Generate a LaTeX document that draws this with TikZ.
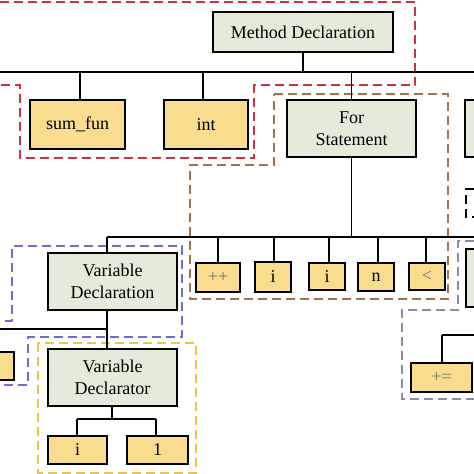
\documentclass[tikz,border=0pt]{standalone}
\usepackage{fontspec}
\setmainfont{Liberation Serif}
\begin{document}
\begin{tikzpicture}[x=1pt,y=-1pt,
  every node/.style={font=\fontsize{18}{22}\selectfont},
  inner/.style={draw=black,line width=2pt,fill=nodegreen,inner sep=0pt,align=center,text=black},
  leaf/.style={draw=black,line width=2pt,fill=leafyellow,inner sep=0pt,align=center,text=black},
  conn/.style={draw=black,line width=1.8pt},
  grp/.style={line width=2pt,dash pattern=on 9pt off 5pt},
  symb/.style={text=black!55}]
\definecolor{nodegreen}{HTML}{E4EBDA}
\definecolor{leafyellow}{HTML}{FADC8E}
\definecolor{redg}{HTML}{CC3340}
\definecolor{browng}{HTML}{A3724C}
\definecolor{blueg}{HTML}{6E6ED2}
\definecolor{goldg}{HTML}{E9C64A}
\definecolor{grayg}{HTML}{8C8CAA}
\useasboundingbox (0,0) rectangle (474,474);
\fill[white] (0,0) rectangle (474,474);

% group outlines
\draw[grp,redg] (0,1.5) -- (415,1.5) -- (415,85) -- (254,85) -- (254,158) -- (20,158) -- (20,85) -- (0,85);
\draw[grp,browng] (274,94) -- (448,94) -- (448,299) -- (190,299) -- (190,165) -- (274,165) -- cycle;
\draw[grp,blueg] (5,321) -- (12,321) -- (12,246) -- (182,246) -- (182,337) -- (28,337) -- (28,385) -- (0,385);
\draw[grp,goldg] (38,343) rectangle (196,473);
\draw[grp,grayg] (474,241) -- (458,241) -- (458,310) -- (402,310) -- (402,399) -- (474,399);
\draw[grp,black] (474,189) -- (466,189) -- (466,217) -- (474,217);

% nodes
\node[inner,minimum width=180pt,minimum height=40pt] (md) at (303,32) {Method Declaration};
\node[leaf,minimum width=95pt,minimum height=49pt] (sumfun) at (77.5,124.5) {sum\_fun};
\node[leaf,minimum width=84pt,minimum height=49pt] (int) at (206,124.5) {int};
\node[inner,minimum width=129pt,minimum height=57pt] (forst) at (351.5,128.5) {For\\Statement};
\node[inner,minimum width=94pt,minimum height=57pt] (rb1) at (512,128.5) {};
\node[leaf,symb,minimum width=44pt,minimum height=29pt] (pp) at (218,277.5) {++};
\node[leaf,minimum width=36pt,minimum height=30pt] (ia) at (273,277) {i};
\node[leaf,minimum width=36pt,minimum height=27pt] (ib) at (327,276.5) {i};
\node[leaf,minimum width=36pt,minimum height=28pt] (nn) at (376,277) {n};
\node[leaf,symb,minimum width=36pt,minimum height=27pt] (lt) at (427,276.5) {<};
\node[inner,minimum width=129pt,minimum height=57pt] (vd) at (112.5,281.5) {Variable\\Declaration};
\node[inner,minimum width=129pt,minimum height=57pt] (vdr) at (112.5,377.5) {Variable\\Declarator};
\node[leaf,minimum width=59pt,minimum height=28pt] (li) at (77.5,449.5) {i};
\node[leaf,minimum width=61pt,minimum height=28pt] (lone) at (157.5,449.5) {1};
\node[leaf,minimum width=64pt,minimum height=28pt] (ll) at (-18,366) {};
\node[inner,minimum width=94pt,minimum height=58pt] (rb2) at (513,278) {};
\node[leaf,symb,minimum width=61pt,minimum height=29pt] (pe) at (441.5,377.5) {+=};

% bus coordinates
\coordinate (busL) at (0,72);
\coordinate (busR) at (480,72);
\coordinate (bus2L) at (107,237);
\coordinate (bus2R) at (480,237);
\coordinate (bus3L) at (0,329);
\coordinate (bus3R) at (107,329);
\coordinate (bus4L) at (77,419);
\coordinate (bus4R) at (156,419);
\coordinate (bus5L) at (442,335);
\coordinate (bus5R) at (480,335);

% connectors
\draw[conn] (busL) -- (busR);
\draw[conn] (md.south) -- (md.south |- busL);
\draw[conn] (80,72) -- (80,0 |- sumfun.north);
\draw[conn] (203,72) -- (203,0 |- int.north);
\draw[conn] (forst.north |- busL) -- (forst.north);
\draw[conn] (forst.south) -- (forst.south |- bus2L);
\draw[conn] (bus2L) -- (bus2R);
\draw[conn] (pp.north |- bus2L) -- (pp.north);
\draw[conn] (274,237) -- (274,0 |- ia.north);
\draw[conn] (329,237) -- (329,0 |- ib.north);
\draw[conn] (378,237) -- (378,0 |- nn.north);
\draw[conn] (426,237) -- (426,0 |- lt.north);
\draw[conn] (bus2L) -- (bus2L |- vd.north);
\draw[conn] (bus2L |- vd.south) -- (bus2L |- vdr.north);
\draw[conn] (bus3L) -- (bus3R);
\draw[conn] (112,0 |- vdr.south) -- (112,419);
\draw[conn] (bus4L) -- (bus4R);
\draw[conn] (bus4L) -- (bus4L |- li.north);
\draw[conn] (bus4R) -- (bus4R |- lone.north);
\draw[conn] (bus5L) -- (bus5R);
\draw[conn] (bus5L) -- (bus5L |- pe.north);
\end{tikzpicture}
\end{document}
